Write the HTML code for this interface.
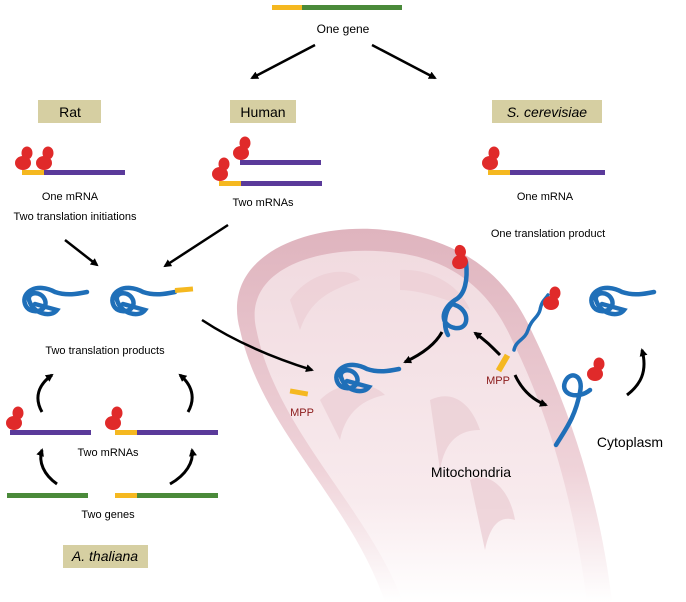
<!DOCTYPE html>
<html><head><meta charset="utf-8"><style>
body{margin:0;background:#fff;}
svg{display:block;font-family:"Liberation Sans",sans-serif;}
</style></head><body>
<svg width="686" height="602" viewBox="0 0 686 602" xmlns="http://www.w3.org/2000/svg">
<defs>
<marker id="ah" markerWidth="8" markerHeight="8" refX="6" refY="4" orient="auto" markerUnits="userSpaceOnUse" viewBox="0 0 8 8">
<path d="M0,0 L8,4 L0,8 Z" fill="#000"/></marker>
<linearGradient id="mg" x1="0" y1="0" x2="0" y2="1">
<stop offset="0" stop-color="#dfb4be"/><stop offset="0.65" stop-color="#efd3d9"/><stop offset="1" stop-color="#fff"/></linearGradient>
<linearGradient id="ig" x1="0" y1="0" x2="0" y2="1">
<stop offset="0" stop-color="#f1dbe0"/><stop offset="0.7" stop-color="#f8eaed"/><stop offset="1" stop-color="#fff"/></linearGradient>
<g id="coil"><path d="M0,4 C-18,-6 -34,4 -30,16 C-26,28 -6,24 -10,12 C-14,2 -28,4 -26,12 C-22,26 -4,30 2,22 L-20,16 M0,4 C12,8 22,6 32,4" fill="none" stroke="#1f6fb8" stroke-width="4.5" stroke-linecap="round"/></g>
<g id="rib"><ellipse cx="0" cy="0" rx="8" ry="7" fill="#e02a2a"/><ellipse cx="4" cy="-10" rx="5.5" ry="6.5" fill="#e02a2a"/></g>
</defs>
<!-- mitochondria -->
<path d="M240,330 C218,250 320,218 400,232 C462,244 505,272 532,332 C570,410 600,500 612,602 L385,602 C350,500 262,430 240,330 Z" fill="url(#mg)"/>
<path d="M256,328 C243,266 325,243 398,253 C452,260 490,290 512,340 C547,410 574,500 587,602 L403,602 C366,505 276,430 256,328 Z" fill="url(#ig)"/>
<g fill="#ecd0d6" opacity="0.8">
<path d="M290,300 C310,270 350,265 360,280 C330,290 310,300 300,330 Z"/>
<path d="M400,270 C430,268 460,285 470,310 C450,300 420,290 400,290 Z"/>
<path d="M320,400 C340,380 370,380 385,395 C360,400 345,415 340,440 Z"/>
<path d="M430,400 C450,390 470,400 480,430 C460,430 445,440 440,470 Z"/>
<path d="M470,480 C490,470 510,490 515,520 C500,515 490,525 485,550 Z"/>
</g>
<!-- top gene -->
<rect x="272" y="5" width="30" height="5" fill="#f5b820"/><rect x="302" y="5" width="100" height="5" fill="#4a8a3a"/>
<text x="343" y="33" font-size="12" text-anchor="middle">One gene</text>
<line x1="315" y1="45" x2="252" y2="78" stroke="#000" stroke-width="2.5" marker-end="url(#ah)"/>
<line x1="372" y1="45" x2="435" y2="78" stroke="#000" stroke-width="2.5" marker-end="url(#ah)"/>
<!-- labels -->
<rect x="38" y="100" width="63" height="23" fill="#d6cfa2"/><text x="70" y="117" font-size="14" text-anchor="middle">Rat</text>
<rect x="230" y="100" width="66" height="23" fill="#d6cfa2"/><text x="263" y="117" font-size="14" text-anchor="middle">Human</text>
<rect x="492" y="100" width="110" height="23" fill="#d6cfa2"/><text x="547" y="117" font-size="14" font-style="italic" text-anchor="middle">S. cerevisiae</text>
<rect x="63" y="545" width="85" height="23" fill="#d6cfa2"/><text x="105" y="561" font-size="14" font-style="italic" text-anchor="middle">A. thaliana</text>
<!-- rat mRNA -->
<rect x="22" y="170" width="22" height="5" fill="#f5b820"/><rect x="44" y="170" width="81" height="5" fill="#5a3a9a"/>
<use href="#rib" x="23" y="163"/><use href="#rib" x="44" y="163"/>
<text x="70" y="200" font-size="11" text-anchor="middle">One mRNA</text>
<text x="75" y="220" font-size="11" text-anchor="middle">Two translation initiations</text>
<!-- human -->
<rect x="240" y="160" width="81" height="5" fill="#5a3a9a"/>
<rect x="219" y="181" width="22" height="5" fill="#f5b820"/><rect x="241" y="181" width="81" height="5" fill="#5a3a9a"/>
<use href="#rib" x="241" y="153"/><use href="#rib" x="220" y="174"/>
<text x="263" y="206" font-size="11" text-anchor="middle">Two mRNAs</text>
<!-- yeast -->
<rect x="488" y="170" width="22" height="5" fill="#f5b820"/><rect x="510" y="170" width="95" height="5" fill="#5a3a9a"/>
<use href="#rib" x="490" y="163"/>
<text x="545" y="200" font-size="11" text-anchor="middle">One mRNA</text>
<text x="548" y="237" font-size="11" text-anchor="middle">One translation product</text>
<!-- arrows to products -->
<line x1="65" y1="240" x2="97" y2="265" stroke="#000" stroke-width="2.5" marker-end="url(#ah)"/>
<line x1="228" y1="225" x2="165" y2="266" stroke="#000" stroke-width="2.5" marker-end="url(#ah)"/>
<!-- products -->
<use href="#coil" x="55" y="288"/>
<use href="#coil" x="143" y="288"/>
<rect x="175" y="288" width="18" height="5" fill="#f5b820" transform="rotate(-5 175 290)"/>
<text x="105" y="354" font-size="11" text-anchor="middle">Two translation products</text>
<path d="M202,320 C240,345 280,360 312,370" fill="none" stroke="#000" stroke-width="2.5" marker-end="url(#ah)"/>
<!-- A. thaliana -->
<path d="M42,412 C34,398 38,385 52,375" fill="none" stroke="#000" stroke-width="3" marker-end="url(#ah)"/>
<path d="M188,412 C196,398 192,385 180,375" fill="none" stroke="#000" stroke-width="3" marker-end="url(#ah)"/>
<rect x="10" y="430" width="81" height="5" fill="#5a3a9a"/><use href="#rib" x="14" y="423"/>
<rect x="115" y="430" width="22" height="5" fill="#f5b820"/><rect x="137" y="430" width="81" height="5" fill="#5a3a9a"/><use href="#rib" x="113" y="423"/>
<text x="108" y="456" font-size="11" text-anchor="middle">Two mRNAs</text>
<path d="M57,484 C44,475 38,462 42,450" fill="none" stroke="#000" stroke-width="3" marker-end="url(#ah)"/>
<path d="M170,484 C186,475 194,462 192,450" fill="none" stroke="#000" stroke-width="3" marker-end="url(#ah)"/>
<rect x="7" y="493" width="81" height="5" fill="#4a8a3a"/>
<rect x="115" y="493" width="22" height="5" fill="#f5b820"/><rect x="137" y="493" width="81" height="5" fill="#4a8a3a"/>
<text x="108" y="518" font-size="11" text-anchor="middle">Two genes</text>
<!-- mito contents -->
<rect x="290" y="390" width="18" height="5" fill="#f5b820" transform="rotate(10 299 392)"/>
<text x="302" y="416" font-size="11" fill="#8b1a1a" text-anchor="middle">MPP</text>
<use href="#coil" x="367" y="365"/>
<!-- yeast product at membrane -->
<path d="M466,262 C468,280 465,295 455,300 C440,310 440,325 455,328 C470,330 470,310 455,305 C450,300 440,320 448,335" fill="none" stroke="#1f6fb8" stroke-width="4.5" stroke-linecap="round"/>
<use href="#rib" x="460" y="262" transform="rotate(-20 460 262)"/>
<path d="M442,332 C435,345 420,355 405,362" fill="none" stroke="#000" stroke-width="3" marker-end="url(#ah)"/>
<path d="M500,355 C490,345 485,340 475,333" fill="none" stroke="#000" stroke-width="3" marker-end="url(#ah)"/>
<rect x="500" y="354" width="6" height="18" fill="#f5b820" transform="rotate(30 503 363)"/>
<path d="M514,350 C516,340 525,340 528,330 C532,318 538,318 540,310 C542,300 545,300 548,295" fill="none" stroke="#1f6fb8" stroke-width="3.5" stroke-linecap="round"/>
<use href="#rib" x="551" y="303"/>
<text x="498" y="384" font-size="11" fill="#8b1a1a" text-anchor="middle">MPP</text>
<path d="M515,375 C522,390 533,400 546,405" fill="none" stroke="#000" stroke-width="3" marker-end="url(#ah)"/>
<path d="M556,445 C565,430 575,418 580,392 C584,375 570,370 565,382 C560,395 578,400 590,390" fill="none" stroke="#1f6fb8" stroke-width="4.5" stroke-linecap="round"/>
<use href="#rib" x="595" y="374"/>
<path d="M627,395 C640,385 648,372 642,350" fill="none" stroke="#000" stroke-width="3" marker-end="url(#ah)"/>
<use href="#coil" x="622" y="288"/>
<text x="630" y="447" font-size="14" text-anchor="middle">Cytoplasm</text>
<text x="471" y="477" font-size="14" text-anchor="middle">Mitochondria</text>
</svg>
</body></html>
